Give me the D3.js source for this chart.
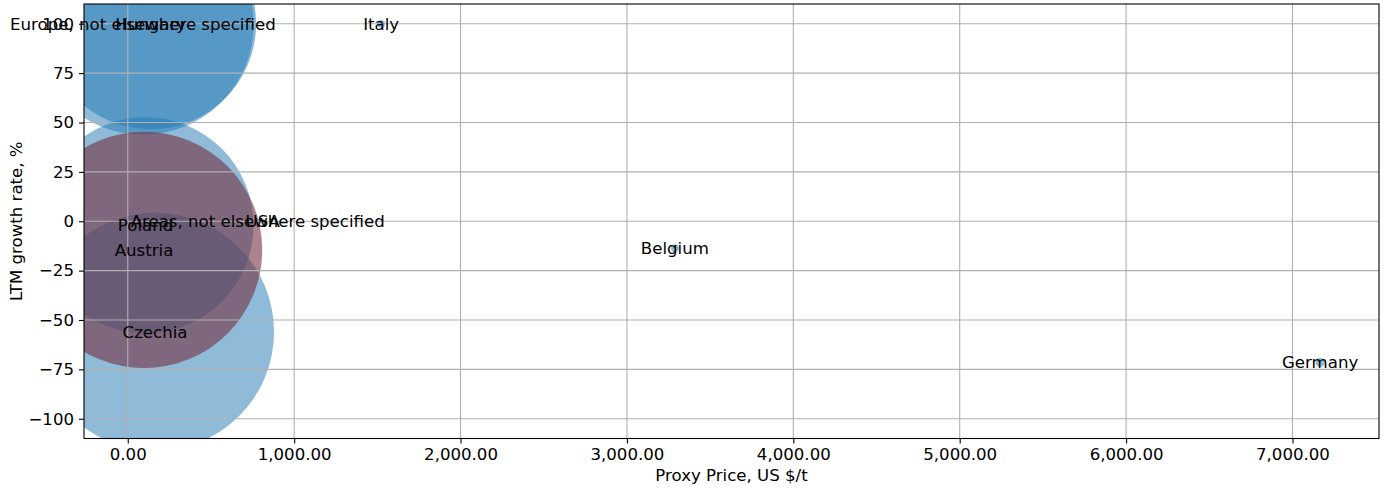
<!DOCTYPE html>
<html><head><meta charset="utf-8">
<script src="https://cdn.jsdelivr.net/npm/d3@7"></script>
<style>
body{margin:0;background:#fff}
text{font-family:"DejaVu Sans",sans-serif;fill:#000}
</style>
</head><body>
<svg id="c" width="1387" height="488"></svg>
<script>
// ---- data ----
const countries = ["Europe, not elsewhere specified","Hungary","Poland","Czechia","Austria","Areas, not elsewhere specified","USA","Italy","Belgium","Germany"];
const prices    = [91, 138, 107, 164, 98, 781, 811, 1523, 3288, 7166];   // Proxy Price, US $/t
const growth    = [100, 100, -2, -56, -14.5, 0, 0, 100, -13.6, -71.5];   // LTM growth rate, %
const volumes   = [12355, 11161, 11697, 14200, 14000, 6, 6, 15, 15, 20];  // bubble size
const colors    = ["#1f77b4","#1f77b4","#1f77b4","#1f77b4","#74313f","#1f77b4","#1f77b4","#1f77b4","#1f77b4","#1f77b4"];
const opacities = [0.5,0.5,0.5,0.5,0.6,0.5,0.5,0.5,0.5,0.5];
const xTicks = [0,1000,2000,3000,4000,5000,6000,7000];
const yTicks = [-100,-75,-50,-25,0,25,50,75,100];
const xLabel = "Proxy Price, US $/t";
const yLabel = "LTM growth rate, %";

// ---- layout ----
const L=84, R=1379, T=4, B=438.5, FS="16.6px";
const svg = d3.select("#c");
const x = d3.scaleLinear().domain([-263,7520]).range([L,R]);
const y = d3.scaleLinear().domain([-110,110]).range([B,T]);
const r = d3.scaleSqrt().domain([0,14200]).range([0,119]);

svg.append("defs").append("clipPath").attr("id","clip")
  .append("rect").attr("x",L).attr("y",T).attr("width",R-L).attr("height",B-T);

const data = countries.map((c,i)=>({c, x:prices[i], y:growth[i], v:volumes[i], col:colors[i], op:opacities[i]}));

const plot = svg.append("g").attr("clip-path","url(#clip)");
plot.selectAll("circle").data(data).join("circle")
  .attr("cx",d=>x(d.x)).attr("cy",d=>y(d.y)).attr("r",d=>r(d.v))
  .attr("fill",d=>d.col).attr("fill-opacity",d=>d.op);

// grid
const grid = svg.append("g").attr("stroke","#b0b0b0").attr("stroke-width",1.1);
grid.selectAll("line.gx").data(xTicks).join("line").attr("class","gx")
  .attr("x1",d=>x(d)).attr("x2",d=>x(d)).attr("y1",T).attr("y2",B);
grid.selectAll("line.gy").data(yTicks).join("line").attr("class","gy")
  .attr("y1",d=>y(d)).attr("y2",d=>y(d)).attr("x1",L).attr("x2",R);

// labels
svg.append("g").selectAll("text").data(data).join("text")
  .attr("x",d=>x(d.x)).attr("y",d=>y(d.y)).attr("dy","0.35em")
  .attr("text-anchor","middle").attr("font-size",FS).text(d=>d.c);

// axes
const fmt = d3.format(",.2f");
const xa = svg.append("g").attr("transform",`translate(0,${B})`)
  .call(d3.axisBottom(x).tickValues(xTicks).tickFormat(fmt).tickSize(5).tickPadding(5));
const ya = svg.append("g").attr("transform",`translate(${L},0)`)
  .call(d3.axisLeft(y).tickValues(yTicks).tickSize(5).tickPadding(5));
[xa,ya].forEach(a=>{
  a.select(".domain").remove();
  a.selectAll("text").attr("font-size",FS).attr("font-family","DejaVu Sans").attr("fill","#000");
  a.selectAll("line").attr("stroke","#000").attr("stroke-width",1.1);
});

// frame
svg.append("rect").attr("x",L).attr("y",T).attr("width",R-L).attr("height",B-T)
  .attr("fill","none").attr("stroke","#000").attr("stroke-width",1.1);

svg.append("text").attr("x",(L+R)/2).attr("y",481).attr("text-anchor","middle")
  .attr("font-size",FS).text(xLabel);
svg.append("text").attr("transform",`translate(22,${(T+B)/2}) rotate(-90)`)
  .attr("text-anchor","middle").attr("font-size",FS).text(yLabel);
</script>
</body></html>
